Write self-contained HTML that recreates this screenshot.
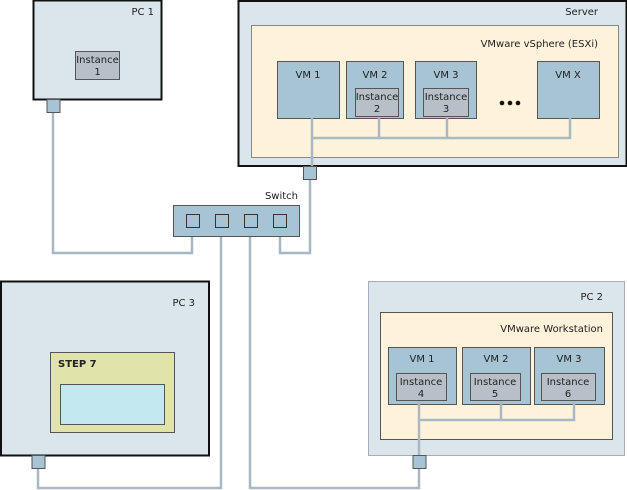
<!DOCTYPE html>
<html><head><style>body{margin:0;background:#fff}svg{display:block}text{font-family:"DejaVu Sans","Liberation Sans",sans-serif;font-size:10px;fill:#222}</style></head><body>
<svg width="627" height="490" viewBox="0 0 627 490" xmlns="http://www.w3.org/2000/svg">
<g fill="none" stroke="#a9b8c3" stroke-width="2.5">
<polyline points="53,113 53,253 192,253 192,227"/>
<polyline points="280,227 280,253 310,253 310,180"/>
<polyline points="221,227 221,488 38,488 38,468"/>
<polyline points="250,227 250,488 419,488 419,468"/>
</g>
<!-- PC1 -->
<rect x="33.5" y="0.5" width="128" height="99" fill="#dae6ec" stroke="#111" stroke-width="2"/>
<text x="154" y="15" text-anchor="end">PC 1</text>
<rect x="75.5" y="51.5" width="44" height="28" fill="#b7c0c8" stroke="#555"/>
<text x="97.5" y="63" text-anchor="middle">Instance</text><text x="97.5" y="75" text-anchor="middle">1</text>
<rect x="47" y="99.5" width="13" height="13" fill="#a6c4d4" stroke="#555"/>
<!-- Server -->
<rect x="238.5" y="1" width="388" height="165" fill="#dae6ec" stroke="#111" stroke-width="2"/>
<text x="598" y="15" text-anchor="end">Server</text>
<rect x="251.5" y="25.5" width="367" height="132" fill="#fff2da" stroke="#888"/>
<text x="598" y="47" text-anchor="end">VMware vSphere (ESXi)</text>
<g fill="#a6c4d4" stroke="#555">
<rect x="277.5" y="61.5" width="62" height="57"/>
<rect x="346.5" y="61.5" width="57" height="57"/>
<rect x="415.5" y="61.5" width="61" height="57"/>
<rect x="537.5" y="61.5" width="62" height="57"/>
</g>
<text x="308" y="78" text-anchor="middle">VM 1</text>
<text x="375" y="78" text-anchor="middle">VM 2</text>
<text x="446" y="78" text-anchor="middle">VM 3</text>
<text x="568" y="78" text-anchor="middle">VM X</text>
<g fill="#b7c0c8" stroke="#555"><rect x="355.5" y="88.5" width="43" height="28"/><rect x="423.5" y="88.5" width="45" height="28"/></g>
<text x="377" y="100" text-anchor="middle">Instance</text><text x="377" y="112" text-anchor="middle">2</text>
<text x="446" y="100" text-anchor="middle">Instance</text><text x="446" y="112" text-anchor="middle">3</text>
<g fill="#111"><circle cx="502" cy="103" r="2.3"/><circle cx="510" cy="103" r="2.3"/><circle cx="518" cy="103" r="2.3"/></g>
<g fill="none" stroke="#a9b8c3" stroke-width="2.5">
<polyline points="312,118 312,167"/><polyline points="312,138 570,138 570,118"/>
<line x1="379" y1="118" x2="379" y2="138"/><line x1="447" y1="118" x2="447" y2="138"/>
</g>
<rect x="303.5" y="166.5" width="13" height="13" fill="#a6c4d4" stroke="#555"/>
<!-- Switch -->
<text x="298" y="199" text-anchor="end">Switch</text>
<rect x="173.5" y="205.5" width="126" height="31" fill="#a6c4d4" stroke="#555"/>
<g fill="none" stroke="#333"><rect x="186.5" y="214.5" width="13" height="13"/><rect x="215.5" y="214.5" width="13" height="13"/><rect x="244.5" y="214.5" width="13" height="13"/><rect x="273.5" y="214.5" width="13" height="13"/></g>
<!-- PC3 -->
<rect x="1" y="281.5" width="208" height="174" fill="#dae6ec" stroke="#111" stroke-width="2"/>
<text x="195" y="306" text-anchor="end">PC 3</text>
<rect x="50.5" y="352.5" width="124" height="80" fill="#e0e3aa" stroke="#555"/>
<text x="58" y="367" style="font-weight:bold">STEP 7</text>
<rect x="60.5" y="384.5" width="104" height="40" fill="#c3e8f0" stroke="#555"/>
<rect x="32" y="455.5" width="13" height="13" fill="#a6c4d4" stroke="#555"/>
<!-- PC2 -->
<rect x="368.5" y="281.5" width="256" height="174" fill="#dae6ec" stroke="#aab"/>
<text x="603" y="300" text-anchor="end">PC 2</text>
<rect x="380.5" y="312.5" width="232" height="127" fill="#fff2da" stroke="#555"/>
<text x="603" y="332" text-anchor="end">VMware Workstation</text>
<g fill="#a6c4d4" stroke="#555">
<rect x="388.5" y="347.5" width="68" height="57"/><rect x="462.5" y="347.5" width="68" height="57"/><rect x="534.5" y="347.5" width="70" height="57"/>
</g>
<text x="422" y="362" text-anchor="middle">VM 1</text><text x="496" y="362" text-anchor="middle">VM 2</text><text x="569" y="362" text-anchor="middle">VM 3</text>
<g fill="#b7c0c8" stroke="#555"><rect x="396.5" y="373.5" width="50" height="27"/><rect x="470.5" y="373.5" width="50" height="27"/><rect x="541.5" y="373.5" width="54" height="27"/></g>
<text x="421" y="385" text-anchor="middle">Instance</text><text x="421" y="397" text-anchor="middle">4</text>
<text x="495" y="385" text-anchor="middle">Instance</text><text x="495" y="397" text-anchor="middle">5</text>
<text x="568" y="385" text-anchor="middle">Instance</text><text x="568" y="397" text-anchor="middle">6</text>
<g fill="none" stroke="#a9b8c3" stroke-width="2.5">
<polyline points="419,401 419,456"/><polyline points="419,420 574,420 574,401"/><line x1="501" y1="401" x2="501" y2="420"/>
</g>
<rect x="413" y="455.5" width="13" height="13" fill="#a6c4d4" stroke="#555"/>
</svg>
</body></html>
